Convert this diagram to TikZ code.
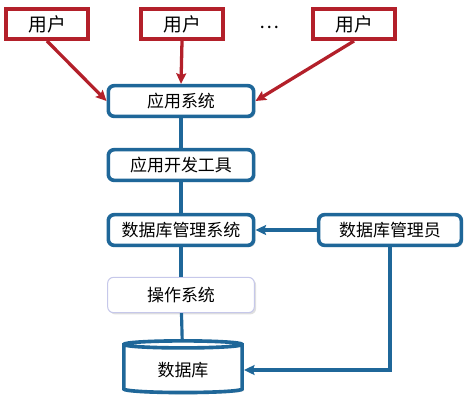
\documentclass[tikz,border=0pt]{standalone}
\usepackage{fontspec}
\newfontfamily\cjk{Noto Sans CJK SC}
\usetikzlibrary{shapes.geometric,shadows,arrows.meta}
\definecolor{userred}{HTML}{B3202A}
\definecolor{sysblue}{HTML}{1F6799}
\definecolor{oslilac}{HTML}{C6C8EA}
\tikzset{
  softshadow/.style={drop shadow={opacity=0.25, shadow xshift=1.5pt, shadow yshift=-1.5pt}},
  user/.style={draw=userred, line width=3.4pt, fill=white, minimum width=2.46cm, minimum height=0.9cm, font=\cjk\fontsize{16}{16}\selectfont, softshadow},
  layer/.style={draw=sysblue, line width=3.1pt, rounded corners=5pt, fill=white, minimum width=4.36cm, minimum height=0.92cm, font=\cjk\fontsize{14.5}{14.5}\selectfont, softshadow},
  oslayer/.style={draw=oslilac, line width=0.9pt, rounded corners=5pt, fill=white, minimum width=4.4cm, minimum height=1.06cm, font=\cjk\fontsize{14.5}{14.5}\selectfont, softshadow},
  store/.style={draw=sysblue, line width=3.1pt, cylinder, shape border rotate=90, shape aspect=0.12, fill=white, minimum width=3.55cm, minimum height=1.55cm, font=\cjk\fontsize{14.5}{14.5}\selectfont, softshadow},
  userlink/.style={draw=userred, line width=2.8pt, ->, >={Stealth[length=9pt, width=8.5pt, inset=1.5pt]}},
  syslink/.style={draw=sysblue, line width=2.7pt, >={Stealth[length=9pt, width=8.5pt, inset=1.5pt]}}
}
\begin{document}
\begin{tikzpicture}[x=0.03cm, y=-0.03cm]
				\useasboundingbox (0, 0) rectangle (474, 408);
				\node[user] (userA)at(47, 24) {用户};
				\node[user] (userB)at(182, 24) {用户};
				\node[font=\cjk\fontsize{16}{16}\selectfont] (dots)at(269, 27) {…};
				\node[user] (userC)at(354, 24) {用户};
				\node[layer] (app)at(181, 101) {应用系统};
				\node[layer] (tools)at(181, 165) {应用开发工具};
				\node[layer] (dbms)at(181, 230) {数据库管理系统};
				\node[layer, minimum width=4.28cm] (dba)at(390, 230) {数据库管理员};
				\node[oslayer] (os)at(181, 295) {操作系统};
				\node[store] (db)at(183, 370) {数据库};
				\draw[userlink] (userA.south) -- (app.west);
				\draw[userlink] (userB.south) -- (app.north);
				\draw[userlink] (userC.south) -- (app.east);
				\draw[syslink] (app) -- (tools);
				\draw[syslink] (tools) -- (dbms);
				\draw[syslink] (dbms) -- (os);
				\draw[syslink] (os) -- (db);
				\draw[syslink, ->] (dba) -- (dbms);
				\draw[syslink, ->] (dba.south) |- (db.east);
			\end{tikzpicture}
\end{document}
